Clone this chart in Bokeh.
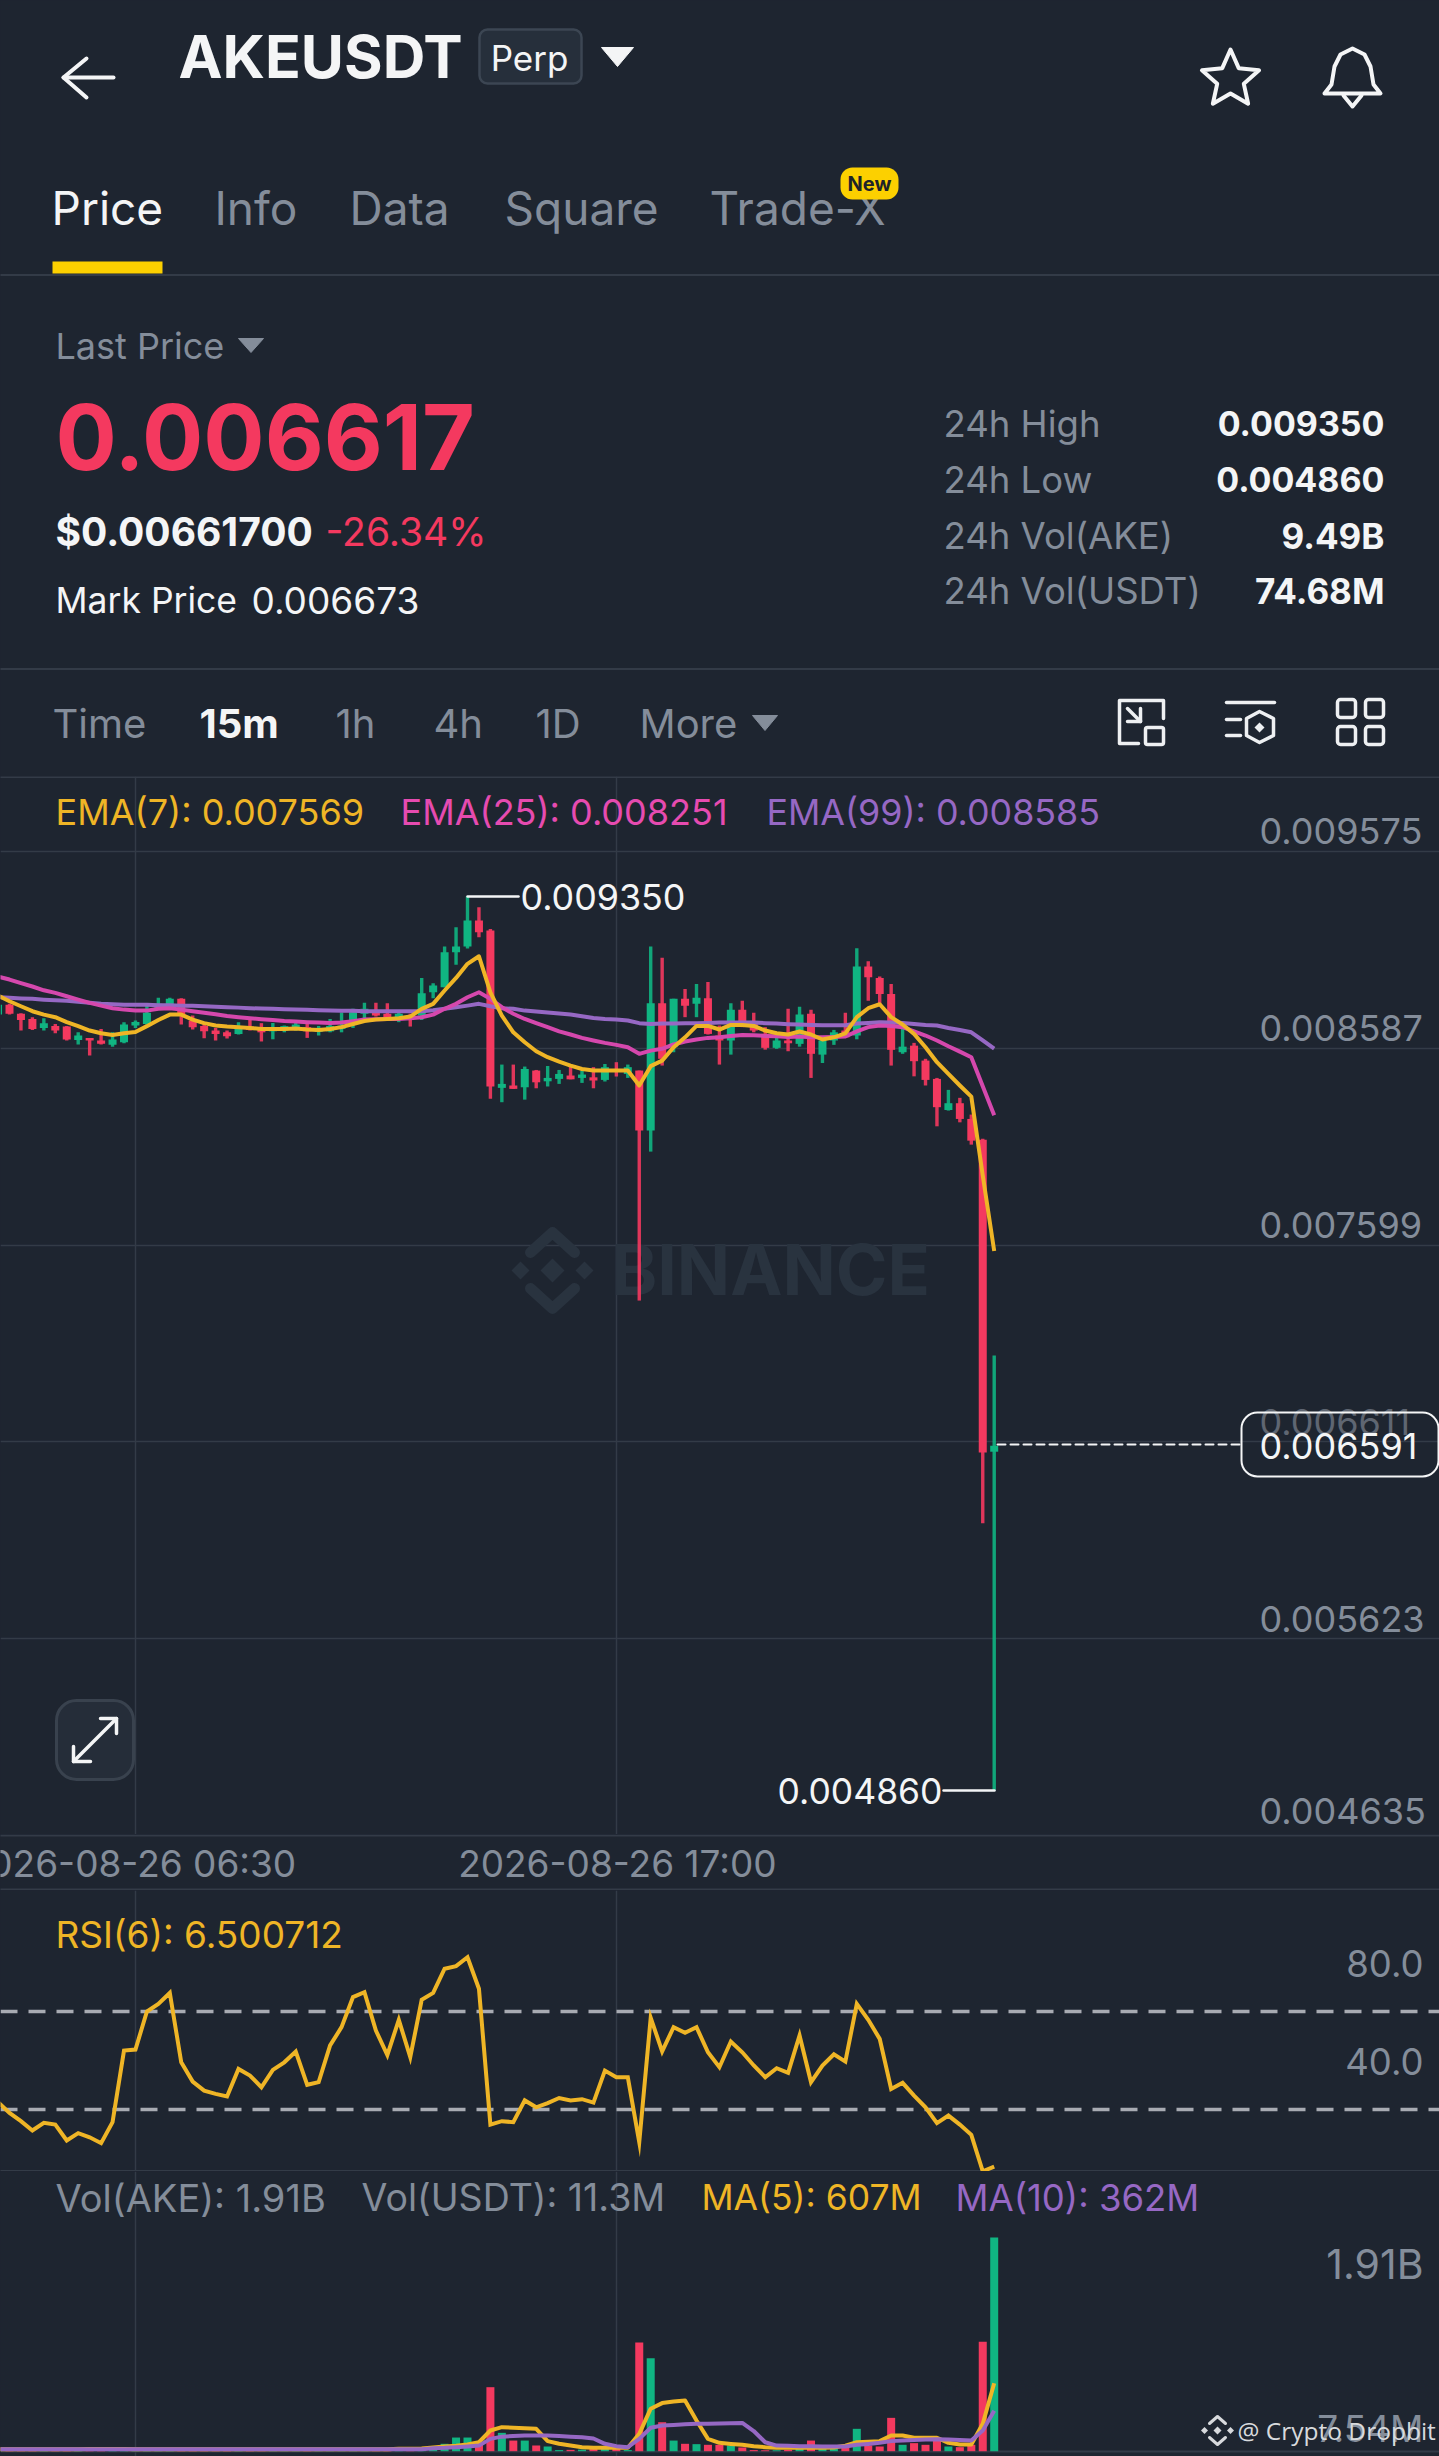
import math
import numpy as np
from bokeh.plotting import figure
from bokeh.layouts import column
from bokeh.models import Range1d, Grid, FixedTicker
from bokeh.core.properties import value
from bokeh.embed import file_html
from bokeh.resources import INLINE

# ---------- data (prices in millionths of a USDT, volumes in millions) ----------
open_u = [8756,8806,8760,8734,8689,8699,8696,8629,8639,8626,8604,
          8617,8701,8709,8788,8801,8835,8726,8699,8676,8667,
          8659,8696,8689,8672,8676,8684,8693,8669,8672,8684,
          8729,8760,8776,8760,8743,8751,8751,8868,8893,9069,
          9098,9228,9178,8388,8400,8391,8475,8421,8433,8450,
          8438,8441,8428,8483,8458,8475,8174,8813,8592,8835,
          8810,8838,8651,8626,8780,8718,8659,8589,8626,8609,
          8760,8555,8626,8676,8651,8997,8940,8860,8567,8600,
          8525,8433,8277,8311,8232,8127,6561]
high_u = [8820,8810,8763,8743,8738,8709,8699,8667,8639,8684,8667,
          8718,8726,8801,8840,8840,8838,8751,8718,8689,8676,
          8718,8734,8713,8714,8701,8714,8716,8699,8734,8766,
          8785,8815,8815,8813,8768,8760,8940,8914,9098,9195,
          9350,9295,9186,8505,8505,8495,8478,8498,8478,8500,
          8475,8492,8508,8517,8505,8475,9098,9041,8835,8885,
          8910,8920,8701,8813,8826,8765,8693,8642,8785,8796,
          8780,8634,8679,8765,9089,9024,8947,8910,8693,8614,
          8534,8438,8378,8338,8254,8132,7044]
low_u = [8750,8756,8676,8679,8676,8662,8626,8606,8550,8606,8595,
         8612,8689,8706,8785,8785,8706,8681,8637,8626,8636,
         8656,8676,8621,8632,8667,8676,8639,8651,8667,8667,
         8689,8734,8746,8726,8718,8696,8729,8838,8893,9006,
         9088,9145,8333,8316,8383,8329,8386,8395,8408,8431,
         8413,8386,8420,8445,8438,7320,8068,8500,8567,8743,
         8743,8656,8505,8555,8693,8667,8580,8584,8572,8595,
         8438,8513,8604,8639,8632,8826,8810,8500,8559,8446,
         8400,8195,8274,8215,8103,6202,4860]
close_u = [8806,8760,8729,8684,8713,8676,8631,8651,8626,8609,8631,
           8706,8719,8765,8810,8835,8751,8693,8672,8659,8647,
           8699,8679,8667,8689,8698,8706,8672,8689,8699,8701,
           8768,8785,8751,8743,8760,8734,8863,8902,9069,9098,
           9228,9170,8395,8408,8383,8483,8416,8438,8458,8431,
           8455,8425,8492,8470,8492,8174,8813,8534,8835,8801,
           8840,8659,8626,8780,8718,8676,8589,8626,8612,8756,
           8559,8626,8667,8642,8997,8944,8860,8579,8595,8522,
           8428,8291,8311,8232,8123,6557,6591]
ema7_u = [8852,8823,8798,8773,8756,8743,8718,8698,8676,8662,8654,
          8662,8669,8698,8729,8756,8756,8731,8713,8701,8696,
          8693,8689,8684,8684,8684,8686,8681,8679,8684,8693,
          8709,8724,8731,8734,8738,8746,8785,8810,8877,8940,
          9011,9049,8868,8751,8667,8617,8572,8542,8520,8500,
          8483,8475,8475,8475,8475,8400,8497,8525,8592,8642,
          8699,8699,8681,8704,8704,8699,8676,8662,8656,8671,
          8656,8631,8642,8662,8743,8788,8808,8743,8706,8659,
          8592,8517,8458,8400,8344,7948,7569]
ema25_u = [8947,8932,8914,8897,8878,8865,8848,8831,8815,8801,8788,
           8781,8776,8776,8785,8788,8781,8773,8765,8758,8749,
           8743,8738,8733,8729,8724,8721,8718,8716,8714,8716,
           8723,8731,8733,8734,8734,8738,8743,8756,8785,8810,
           8843,8868,8835,8793,8760,8734,8713,8693,8672,8656,
           8639,8626,8614,8604,8592,8559,8575,8584,8606,8621,
           8631,8639,8642,8649,8654,8652,8649,8647,8644,8646,
           8642,8642,8644,8646,8672,8693,8701,8699,8693,8672,
           8651,8626,8597,8570,8542,8396,8251]
ema99_u = [8843,8840,8837,8835,8831,8828,8826,8820,8815,8810,8808,
           8806,8805,8805,8803,8803,8801,8800,8798,8796,8793,
           8791,8788,8786,8785,8783,8781,8780,8778,8776,8775,
           8775,8773,8773,8773,8773,8773,8773,8778,8785,8793,
           8801,8810,8798,8788,8785,8776,8771,8766,8761,8756,
           8748,8739,8734,8731,8726,8713,8709,8711,8711,8713,
           8713,8714,8716,8716,8716,8716,8713,8711,8708,8706,
           8704,8703,8703,8703,8711,8714,8718,8716,8714,8709,
           8704,8701,8689,8679,8667,8626,8585]
rsi6 = [32.9,28.5,25.1,21.3,24.4,23.7,17.2,20.2,18.5,16.1,24.7,
        54.0,54.4,70.0,73.1,77.6,49.2,41.3,37.6,36.3,35.2,
        46.5,43.8,39.0,46.1,49.2,53.6,40.0,41.1,56.1,63.6,
        75.9,77.9,62.2,52.2,66.6,51.3,74.8,77.6,87.5,88.6,
        92.2,79.3,23.7,25.1,24.7,33.6,30.8,32.5,34.6,33.6,
        34.1,32.7,45.8,43.1,43.1,16.5,67.4,53.7,63.6,61.3,
        63.6,53.3,47.2,57.7,53.3,47.9,43.1,46.8,44.9,60.2,
        41.1,47.9,52.5,49.5,73.1,66.6,58.8,38.3,40.8,35.6,
        30.8,24.3,27.4,23.7,19.5,4.6,6.5]
volume_m = [14,14,12,15,11,13,16,12,34,14,12,
            18,13,15,12,16,22,14,12,13,12,
            16,12,14,15,11,12,14,12,13,18,
            12,14,12,13,22,16,36,30,66,122,
            122,60,572,164,95,95,51,42,10,12,
            14,21,21,21,10,971,831,259,95,66,
            63,57,57,51,33,10,8,8,12,21,
            95,51,21,36,200,51,42,298,57,72,
            57,110,42,36,57,977,1910]
vol_ma5 = [18,18,18,18,18,18,18,18,20,20,20,
           20,18,18,18,18,18,18,18,18,18,
           18,18,18,18,18,18,18,18,18,18,
           18,18,18,18,21,21,24,33,42,48,
           60,80,185,215,210,205,200,90,66,50,
           36,30,30,30,30,155,380,430,445,453,
           274,110,75,65,57,45,36,30,30,30,
           30,30,33,50,80,85,90,140,140,120,
           120,120,75,60,60,245,607]
vol_ma10 = [18,18,18,18,18,18,18,18,18,18,18,
            18,18,18,18,18,18,18,18,18,18,
            18,18,18,18,18,18,18,18,18,18,
            18,18,18,18,18,18,18,27,30,36,
            42,50,110,130,135,140,140,140,135,130,
            125,113,66,45,36,110,209,230,235,240,
            245,245,248,250,253,180,80,50,48,45,
            45,42,42,42,57,65,75,90,95,100,
            105,107,105,100,95,185,362]
price_ticks = [0.009575, 0.008587, 0.007599, 0.006611, 0.005623, 0.004635]
price_labels = ["0.009575", "0.008587", "0.007599", "0.006611", "0.005623", "0.004635"]
rsi_ticks = [70, 30]
rsi_labels = ["80.0", "40.0"]
time_ticks = [11, 53]
time_labels = ["2026-08-26 06:30", "2026-08-26 17:00"]
tabs = ["Price", "Info", "Data", "Square", "Trade-X"]
intervals = ["Time", "15m", "1h", "4h", "1D", "More"]
stats_labels = ["24h High", "24h Low", "24h Vol(AKE)", "24h Vol(USDT)"]
stats_values = ["0.009350", "0.004860", "9.49B", "74.68M"]

# ---------- style ----------
BG = "#1e2530"; GRID = "#333b47"; GRAY = "#848d9a"; WHITE = "#f4f5f6"
RED = "#f4395f"; GREEN = "#10b582"; YEL = "#efb526"; PINK = "#d548ad"; PUR = "#9668c4"
W = 1439
FONT = value("Inter")
XR = lambda: Range1d(-0.786, 124.89)


def fig(top, bottom, x_range, y_range):
    p = figure(width=W, height=bottom - top, x_range=x_range, y_range=y_range,
               output_backend="svg", toolbar_location=None,
               x_axis_location=None, y_axis_location=None, min_border=0,
               background_fill_color=BG, border_fill_color=BG, outline_line_color=None)
    p.grid.visible = False
    p.extra_x_ranges["px"] = Range1d(0, 1439)
    p.extra_y_ranges["px"] = Range1d(bottom, top)
    return p


PX = dict(x_range_name="px", y_range_name="px")


def txt(p, x, y, s, size, color, align="left", style="normal", font=FONT, alpha=1.0, **kw):
    args = dict(PX); args.update(kw)
    p.text(x=[x], y=[y], text=[s], text_font=font, text_font_size=value(f"{size}px"),
           text_color=color, text_align=align, text_baseline="middle",
           text_font_style=style, text_alpha=alpha, **args)


def ln(p, xs, ys, color=WHITE, w=4, dash="solid", alpha=1.0):
    p.line(xs, ys, line_color=color, line_width=w, line_dash=dash, line_alpha=alpha,
           line_cap="round", line_join="round", **PX)


def box(p, l, r, t, b, fill=None, line=WHITE, w=4, rad=0):
    p.quad(left=[l], right=[r], top=[t], bottom=[b], fill_color=fill, line_color=line,
           line_width=w, border_radius=rad, **PX)


def tri(p, x0, x1, y0, y1, color):
    p.patch([x0, x1, (x0 + x1) / 2], [y0, y0, y1], fill_color=color, line_color=color, line_width=1, **PX)


def diamonds(p, pts, color):
    for cx, cy, r in pts:
        p.patch([cx - r, cx, cx + r, cx], [cy, cy - r, cy, cy + r], fill_color=color, line_color=None, **PX)


# ---------- header ----------
h = fig(0, 776, Range1d(0, 1439), Range1d(776, 0))
ln(h, [0, 1439], [274.5, 274.5], GRID, 2)
ln(h, [0, 1439], [668.5, 668.5], GRID, 2)
ln(h, [63, 113], [77, 77]); ln(h, [86, 63, 86], [58, 77, 97])
txt(h, 178, 56, "AKEUSDT", 59, WHITE, style="bold")
box(h, 479, 581, 29, 83, "#262f3b", "#3c4653", 2.5, 8)
txt(h, 529, 57, "Perp", 35, WHITE, "center")
tri(h, 601, 633, 47, 66, WHITE)
# star
sx, sy = [], []
for k in range(10):
    r = 30 if k % 2 == 0 else 14
    a = -math.pi / 2 + k * math.pi / 5
    sx.append(1230 + r * math.cos(a)); sy.append(79 + r * math.sin(a))
h.patch(sx, sy, fill_color=None, line_color=WHITE, line_width=4, line_join="round", **PX)
# bell
h.patch([1324, 1331, 1334, 1340, 1352, 1364, 1370, 1373, 1380],
        [93, 84, 66, 54, 48, 54, 66, 84, 93], fill_color=None, line_color=WHITE, line_width=4,
        line_join="round", **PX)
ln(h, [1343, 1352, 1361], [95, 106, 95])
tab_x = [51, 214, 349, 504, 709]
for i, (s, x) in enumerate(zip(tabs, tab_x)):
    txt(h, x, 207, s, 46, WHITE if i == 0 else GRAY)
box(h, 52, 162, 261, 273, "#fcd000", None, 0)
box(h, 840, 898, 167, 199, "#fcd000", None, 0, 12)
txt(h, 869, 183, "New", 20, "#1e2329", "center", "bold")

txt(h, 55, 345, "Last Price", 36, GRAY)
tri(h, 238, 263, 338, 352, GRAY)
txt(h, 55, 436, "0.006617", 91, RED, style="bold")
txt(h, 55, 531, "$0.00661700", 39, WHITE, style="bold")
txt(h, 325, 531, "-26.34%", 39, RED)
txt(h, 55, 600, "Mark Price", 35.5, WHITE)
txt(h, 251, 600, "0.006673", 37, WHITE)
for y, a, b, fs in zip([423, 479, 535, 590], stats_labels, stats_values, [34, 34, 35, 35]):
    txt(h, 943, y, a, 36.5, GRAY)
    txt(h, 1384, y, b, fs, WHITE, "right", "bold")
int_x = [52, 199, 335, 433, 535, 639]
for i, (s, x) in enumerate(zip(intervals, int_x)):
    txt(h, x, 723, s, 40, WHITE if i == 1 else GRAY, style="bold" if i == 1 else "normal")
tri(h, 752, 777, 715, 730, GRAY)
# toolbar icons
IC = "#eef0f2"
ln(h, [1138, 1119, 1119, 1163, 1163], [743, 743, 700, 700, 718], IC, 3.5)
box(h, 1145, 1163, 727, 744, None, IC, 3.5, 2)
ln(h, [1127, 1140], [708, 721], IC, 3.5); ln(h, [1127, 1140, 1140], [721, 721, 708], IC, 3.5)
ln(h, [1226, 1274], [702, 702], IC, 3.5)
ln(h, [1226, 1240], [719, 719], IC, 3.5); ln(h, [1226, 1240], [735, 735], IC, 3.5)
h.patch([1259, 1273, 1273, 1259, 1246, 1246], [711, 718, 735, 742, 735, 718], fill_color=None, line_color=IC,
        line_width=3.5, line_join="round", **PX)
diamonds(h, [(1259, 727, 5)], IC)
for cx in (1337, 1365):
    for cy in (699, 726):
        box(h, cx, cx + 18, cy, cy + 18, None, IC, 3.5, 3)

# ---------- price pane ----------
price = fig(776, 1834, XR(), Range1d(4638.8e-6, 9951.6e-6))
price.add_layout(Grid(dimension=1, ticker=FixedTicker(ticks=price_ticks), grid_line_color=GRID, grid_line_width=1.5))
price.add_layout(Grid(dimension=0, ticker=FixedTicker(ticks=time_ticks), grid_line_color=GRID, grid_line_width=1.5))
# watermark
WM = "#29333f"
diamonds(price, [(552, 1270, 12), (520, 1270, 9), (584, 1270, 9)], WM)
ln(price, [530, 552, 574], [1252, 1232, 1252], WM, 11); ln(price, [530, 552, 574], [1288, 1308, 1288], WM, 11)
txt(price, 770, 1269, "BINANCE", 70, WM, "center", "bold")

ln(price, [0, 1439], [776.5, 776.5], GRID, 2)
idx = np.arange(len(close_u)) - 1
o, hi, lo, c = [np.array(a) * 1e-6 for a in (open_u, high_u, low_u, close_u)]
col = [GREEN if b >= a else RED for a, b in zip(open_u, close_u)]
price.segment(idx, hi, idx, lo, line_color=col, line_width=3.4, line_alpha=0.9)
price.vbar(x=idx, width=0.7, top=np.maximum(o, c), bottom=np.minimum(o, c), fill_color=col, line_color=None)
price.line(idx, np.array(ema99_u) * 1e-6, line_color=PUR, line_width=4, line_join="round")
price.line(idx, np.array(ema25_u) * 1e-6, line_color=PINK, line_width=4, line_join="round")
price.line(idx, np.array(ema7_u) * 1e-6, line_color=YEL, line_width=4, line_join="round")

txt(price, 55, 811, "EMA(7): 0.007569", 36, YEL)
txt(price, 400, 811, "EMA(25): 0.008251", 36, "#e64bb0")
txt(price, 766, 811, "EMA(99): 0.008585", 35.8, PUR)
for t, s in zip(price_ticks, price_labels):
    dim = s == "0.006611"
    off = -20 if s != "0.004635" else -24
    txt(price, 1259, t, s, 36, "#5f6672" if dim else GRAY, x_range_name="px", y_range_name="default", y_offset=off)
# extreme labels
ln(price, [467, 518], [896, 896], WHITE, 2.5)
txt(price, 520, 896, "0.009350", 35.8, WHITE)
ln(price, [943, 994], [1790, 1790], WHITE, 2.5)
txt(price, 942, 1790, "0.004860", 35.5, WHITE, "right")
# last price
ln(price, [997, 1240], [1444, 1444], WHITE, 2, "8 5")
price.quad(left=[1241], right=[1438], top=[1412], bottom=[1476], fill_color=None, line_color=WHITE, line_width=2,
           border_radius=16, **PX)
txt(price, 1259, 1445, "0.006591", 36, WHITE)
# expand button
box(price, 56, 133, 1700, 1779, "#252d39", "#39424e", 3, 20)
ln(price, [73, 116], [1761, 1718], WHITE, 3.5)
ln(price, [73, 73, 90], [1746, 1761, 1761], WHITE, 3.5)
ln(price, [100, 116, 116], [1718, 1718, 1733], WHITE, 3.5)

# ---------- time strip ----------
ts = fig(1834, 1890, XR(), Range1d(1890, 1834))
ln(ts, [0, 1439], [1835, 1835], GRID, 2)
ln(ts, [0, 1439], [1889, 1889], GRID, 2)
for t, s, off in zip(time_ticks, time_labels, [-4, 1]):
    ts.text(x=[t], y=[1863], text=[s], text_font=FONT, text_font_size=value("37px"), text_color=GRAY,
            text_align="center", text_baseline="middle", x_offset=off)

# ---------- RSI pane ----------
rsi = fig(1890, 2171, XR(), Range1d(4.5, 119.54))
rsi.add_layout(Grid(dimension=0, ticker=FixedTicker(ticks=time_ticks), grid_line_color=GRID, grid_line_width=1.5))
rsi.add_layout(Grid(dimension=1, ticker=FixedTicker(ticks=rsi_ticks), grid_line_color="#a8abb2",
                    grid_line_width=3.5, grid_line_dash="17 11"))
ln(rsi, [0, 1439], [2170.5, 2170.5], GRID, 2)
rsi.line(idx, rsi6, line_color=YEL, line_width=4, line_join="miter")
txt(rsi, 55, 1934, "RSI(6): 6.500712", 37, YEL)
for t, s in zip(rsi_ticks, rsi_labels):
    txt(rsi, 1423, t, s, 36.5, GRAY, "right", x_range_name="px", y_range_name="default", y_offset=-48)

# ---------- volume pane ----------
vol = fig(2171, 2456, XR(), Range1d(-47.4, 2499.5))
vol.add_layout(Grid(dimension=0, ticker=FixedTicker(ticks=time_ticks), grid_line_color=GRID, grid_line_width=1.5))
vol.add_layout(Grid(dimension=1, ticker=FixedTicker(ticks=[0]), grid_line_color=GRID, grid_line_width=2))
vol.vbar(x=idx, width=0.7, top=volume_m, bottom=0, fill_color=col, line_color=None)
vol.line(idx, vol_ma5, line_color=YEL, line_width=4, line_join="round")
vol.line(idx, vol_ma10, line_color=PUR, line_width=4, line_join="round")
txt(vol, 55, 2197, "Vol(AKE): 1.91B", 38, GRAY)
txt(vol, 361, 2197, "Vol(USDT): 11.3M", 37.5, GRAY)
txt(vol, 701, 2197, "MA(5): 607M", 35.5, YEL)
txt(vol, 955, 2197, "MA(10): 362M", 36.5, PUR)
txt(vol, 1423, 2263, "1.91B", 41, GRAY, "right")
txt(vol, 1423, 2428, "7.54M", 37, GRAY, "right")
LG = "#d8dadd"
diamonds(vol, [(1217, 2430, 4), (1204, 2430, 3.5), (1230, 2430, 3.5)], LG)
ln(vol, [1209, 1217, 1225], [2423, 2416, 2423], LG, 3); ln(vol, [1209, 1217, 1225], [2437, 2444, 2437], LG, 3)
txt(vol, 1237, 2430, "@ Crypto Dropbit", 24.5, LG, font=value("Open Sans"))

page = column(h, price, ts, rsi, vol, spacing=0)
html = file_html(page, INLINE)
html = html.replace("</head>", "<style>html,body{background:#1e2530;margin:0;overflow:hidden}</style></head>", 1)
open("out.html", "w").write(html)
